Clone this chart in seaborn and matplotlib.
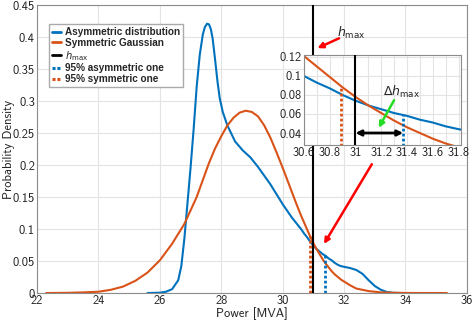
import numpy as np
import pandas as pd
import matplotlib
matplotlib.use("Agg")
import matplotlib.pyplot as plt
import seaborn as sns
from matplotlib.lines import Line2D

# ---- data ----
asym_x = [25.6, 26.0, 26.2, 26.4, 26.6, 26.7, 26.8, 26.9, 27.0, 27.1, 27.2, 27.3, 27.4,
          27.47, 27.54, 27.6, 27.66, 27.72, 27.8, 27.88, 27.95, 28.05, 28.2, 28.45, 28.7,
          28.95, 29.2, 29.6, 30.0, 30.3, 30.6, 30.7, 30.8, 30.9, 31.0, 31.1, 31.2, 31.3,
          31.4, 31.5, 31.6, 31.7, 31.8, 31.9, 32.0, 32.2, 32.4, 32.6, 32.8, 33.0, 33.2,
          33.4, 33.6, 33.9]
asym_y = [0.0, 0.0005, 0.002, 0.006, 0.020, 0.042, 0.085, 0.140, 0.195, 0.255, 0.322,
          0.372, 0.404, 0.416, 0.421, 0.420, 0.413, 0.398, 0.365, 0.330, 0.305, 0.283,
          0.262, 0.237, 0.223, 0.212, 0.197, 0.170, 0.139, 0.118, 0.100, 0.093, 0.087,
          0.080, 0.074, 0.069, 0.065, 0.061, 0.058, 0.054, 0.051, 0.047, 0.044, 0.042,
          0.041, 0.039, 0.036, 0.030, 0.020, 0.011, 0.005, 0.0015, 0.0003, 0.0]

sym_x = [22.3, 23.0, 23.5, 24.0, 24.4, 24.8, 25.2, 25.6, 26.0, 26.4, 26.8, 27.2, 27.6,
         27.8, 28.0, 28.2, 28.4, 28.6, 28.8, 29.0, 29.2, 29.4, 29.6, 29.8, 30.0, 30.15,
         30.3, 30.45, 30.6, 30.7, 30.8, 30.9, 31.0, 31.1, 31.2, 31.3, 31.4, 31.5, 31.6,
         31.7, 31.8, 31.9, 32.0, 32.2, 32.4, 32.8, 33.2, 33.6, 34.0, 34.5, 35.35]
sym_y = [0.0, 0.0003, 0.001, 0.002, 0.005, 0.010, 0.019, 0.032, 0.051, 0.077, 0.108,
         0.150, 0.203, 0.226, 0.245, 0.262, 0.274, 0.282, 0.285, 0.283, 0.276, 0.262,
         0.243, 0.220, 0.196, 0.177, 0.158, 0.139, 0.121, 0.110, 0.099, 0.088, 0.078,
         0.069, 0.061, 0.053, 0.046, 0.040, 0.034, 0.029, 0.025, 0.021, 0.018, 0.012,
         0.007, 0.003, 0.001, 0.0004, 0.0001, 0.0, 0.0]

h_max = 31.0
p95_asym = 31.37
p95_sym = 30.89

main_xticks = [22, 24, 26, 28, 30, 32, 34, 36]
main_yticks = [0, 0.05, 0.1, 0.15, 0.2, 0.25, 0.3, 0.35, 0.4, 0.45]
inset_xticks = [30.6, 30.8, 31.0, 31.2, 31.4, 31.6, 31.8]
inset_yticks = [0.04, 0.06, 0.08, 0.1, 0.12]

BLUE = "#0072BD"
ORANGE = "#D95319"

df = pd.concat([
    pd.DataFrame({"x": asym_x, "y": asym_y, "s": "Asymmetric distribution"}),
    pd.DataFrame({"x": sym_x, "y": sym_y, "s": "Symmetric Gaussian"}),
])
palette = {"Asymmetric distribution": BLUE, "Symmetric Gaussian": ORANGE}

sns.set_style("whitegrid", {"grid.color": "#e3e3e3", "axes.edgecolor": "#8c8c8c"})
plt.rcParams["font.family"] = ["cmss10", "DejaVu Sans"]
plt.rcParams["axes.unicode_minus"] = False
plt.rcParams["mathtext.fontset"] = "dejavusans"

fig = plt.figure(figsize=(4.74, 3.22), dpi=100)
ax = fig.add_axes([0.078, 0.09, 0.907, 0.894])

sns.lineplot(data=df, x="x", y="y", hue="s", palette=palette, ax=ax, lw=1.5,
             sort=False, legend=False, estimator=None)

ya = np.interp(p95_asym, asym_x, asym_y)
ys = np.interp(p95_sym, sym_x, sym_y)

def extras(a, lw_v):
    a.axvline(h_max, color="black", lw=lw_v, zorder=4)
    a.plot([p95_asym, p95_asym], [0, ya], color=BLUE, ls=(0, (1, 0.8)), lw=2, zorder=3)
    a.plot([p95_sym, p95_sym], [0, ys], color=ORANGE, ls=(0, (1, 0.8)), lw=2, zorder=3)

extras(ax, 1.5)

ax.set_xlim(22, 36)
ax.set_ylim(0, 0.45)
ax.set_xticks(main_xticks)
ax.set_xticklabels([f"{v:g}" for v in main_xticks])
ax.set_yticks(main_yticks)
ax.set_yticklabels([f"{v:g}" for v in main_yticks])
ax.tick_params(length=0, labelsize=9, pad=1.5, colors="#222222")
ax.set_xlabel("Power [MVA]", fontsize=9, labelpad=0)
ax.set_ylabel("Probability Density", fontsize=9)
ax.yaxis.set_label_coords(-0.052, 0.5)

handles = [
    Line2D([], [], color=BLUE, lw=2),
    Line2D([], [], color=ORANGE, lw=2),
    Line2D([], [], color="black", lw=2),
    Line2D([], [], color=BLUE, lw=2.2, ls=(0, (1, 0.6))),
    Line2D([], [], color=ORANGE, lw=2.2, ls=(0, (1, 0.6))),
]
labels = ["Asymmetric distribution", "Symmetric Gaussian", r"$h_{\rm max}$",
          "95% asymmetric one", "95% symmetric one"]
leg = ax.legend(handles, labels, loc="upper left", bbox_to_anchor=(0.028, 0.934),
                borderaxespad=0, fancybox=False, edgecolor="#aaaaaa", framealpha=1,
                handlelength=0.9, handletextpad=0.35, labelspacing=0.08,
                borderpad=0.3,
                prop={"family": "Liberation Sans", "weight": "bold", "size": 7.2})

# red arrows on main axes
ax.annotate("", xy=(31.05, 0.381), xytext=(31.92, 0.40),
            arrowprops=dict(arrowstyle="-|>", color="red", lw=1.8, mutation_scale=8))
ax.text(32.25, 0.406, r"$h_{\rm max}$", fontsize=9, ha="center", va="center")
ax.annotate("", xy=(31.3, 0.073), xytext=(32.95, 0.205),
            arrowprops=dict(arrowstyle="-|>", color="red", lw=1.8, mutation_scale=8))

# inset
axi = fig.add_axes([0.641, 0.5497, 0.332, 0.2795])
sns.lineplot(data=df, x="x", y="y", hue="s", palette=palette, ax=axi, lw=1.5,
             sort=False, legend=False, estimator=None)
extras(axi, 1.5)
axi.set_xlim(30.6, 31.82)
axi.set_ylim(0.0274, 0.122)
axi.set_xticks(inset_xticks)
axi.set_xticklabels([f"{v:g}" for v in inset_xticks])
axi.set_yticks(inset_yticks)
axi.set_yticklabels([f"{v:g}" for v in inset_yticks])
axi.set_xticks(np.arange(30.7, 31.82, 0.2), minor=True)
axi.grid(True, which="minor", axis="x", color="#e3e3e3")
axi.tick_params(length=0, labelsize=9, pad=1.5, colors="#222222")
axi.tick_params(which="minor", length=0)
axi.set_xlabel("")
axi.set_ylabel("")
axi.annotate("", xy=(h_max, 0.04), xytext=(p95_asym, 0.04),
             arrowprops=dict(arrowstyle="<|-|>", color="black", lw=2, mutation_scale=8,
                             shrinkA=0, shrinkB=0))
axi.annotate("", xy=(31.17, 0.043), xytext=(31.31, 0.077),
             arrowprops=dict(arrowstyle="-|>", color="#22dd22", lw=1.8, mutation_scale=8))
axi.text(31.36, 0.083, r"$\Delta h_{\rm max}$", fontsize=9, ha="center", va="center")

fig.savefig("out.png", dpi=100)
